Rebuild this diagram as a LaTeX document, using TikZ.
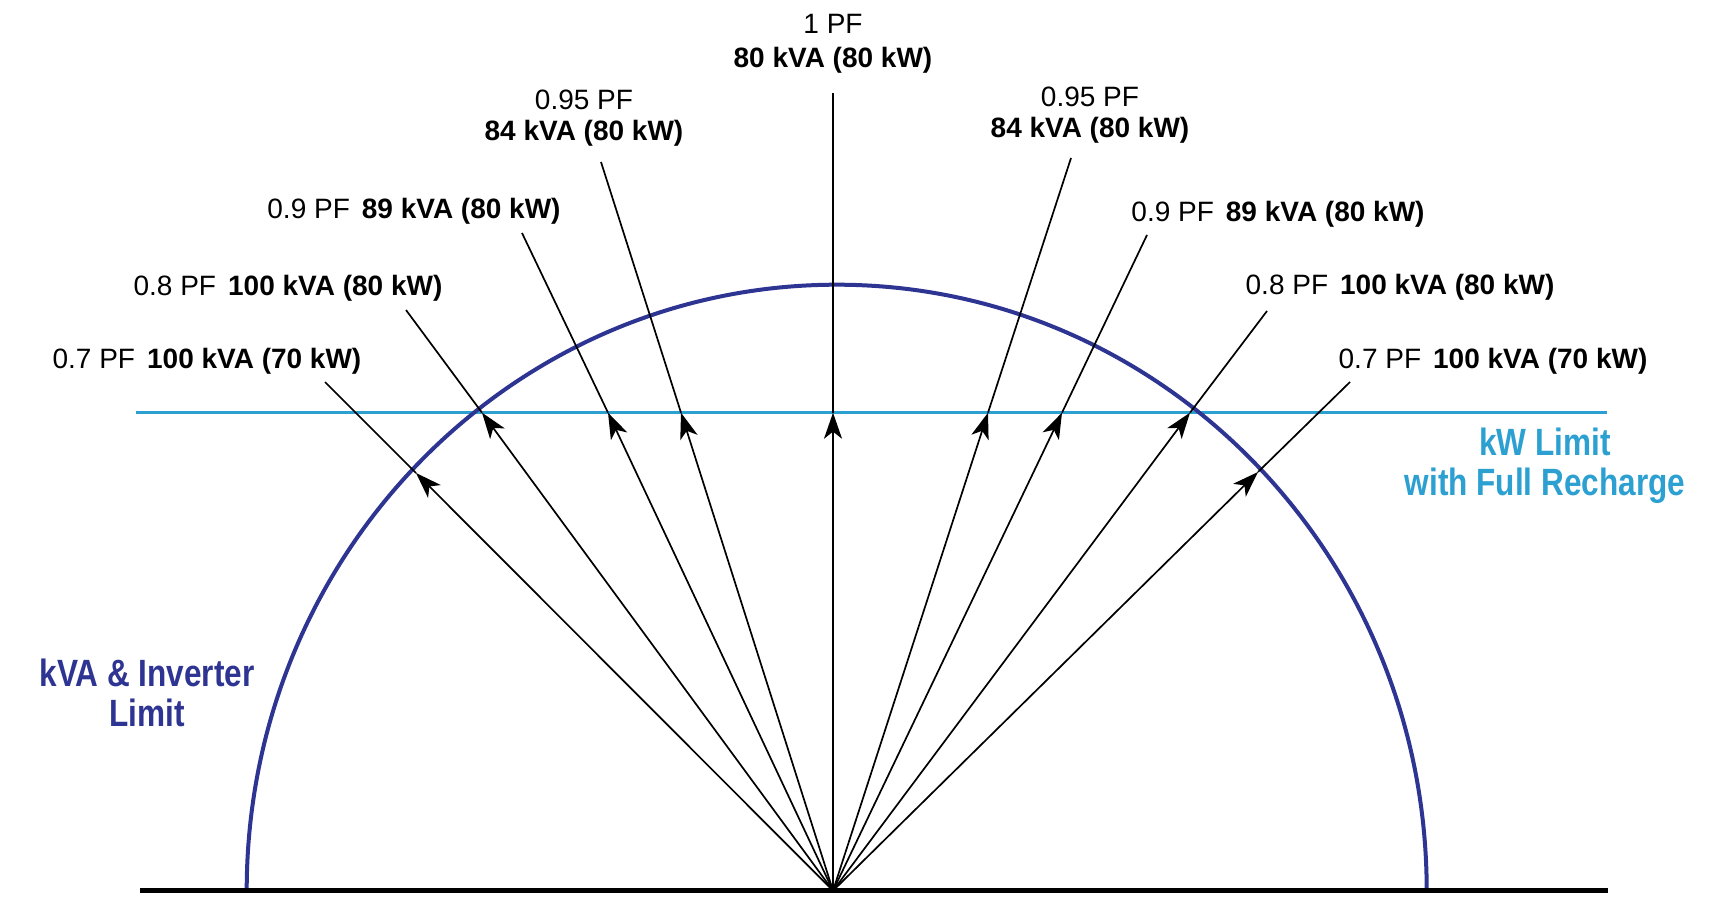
\documentclass[tikz,border=0pt]{standalone}
\usepackage{fontspec}
\setmainfont{Liberation Sans}
\newfontfamily\condfont{Liberation Sans}[FakeStretch=0.83]
\usetikzlibrary{arrows.meta,calc}
\definecolor{kvablue}{RGB}{46,52,146}
\definecolor{kwblue}{RGB}{45,160,210}
\begin{document}
\begin{tikzpicture}[x=1pt,y=1pt,
  vec/.style={line width=1.7pt,black},
  vecarrow/.style={vec,-{Stealth[length=26pt,width=18pt,inset=7pt]}},
  lbl/.style={inner sep=0pt,font=\fontsize{28}{32}\selectfont},
  bluelbl/.style={inner sep=0pt,font=\condfont\bfseries\fontsize{38}{40}\selectfont,align=center}]
\useasboundingbox (0,0) rectangle (1712,919);
\fill[white] (0,0) rectangle (1712,919);
% base and origin
\coordinate (O) at (833,28.3);
\coordinate (BL) at (140,28.3);
\coordinate (BR) at (1608,28.3);
\coordinate (CL) at (246.7,28.3);
% kW limit line
\coordinate (KL) at (136,506.3);
\coordinate (KR) at (1607,506.3);
\draw[kwblue,line width=2.5pt] (KL) -- (KR);
% kVA limit circle
\draw[kvablue,line width=4pt] (CL) arc[start angle=180,end angle=0,x radius=590pt,y radius=606pt];
\draw[black,line width=5pt] (BL) -- (BR);
% arrow tips
\coordinate (T1) at (833,506.3);
\coordinate (TL95) at (681,506.3);
\coordinate (TR95) at (988,506.3);
\coordinate (TL9) at (608,506.3);
\coordinate (TR9) at (1062,506.3);
\coordinate (TL8) at (482,506.3);
\coordinate (TR8) at (1190,506.3);
\coordinate (TL7) at (416,446);
\coordinate (TR7) at (1258,447);
% line ends
\coordinate (E1) at (833,826);
\coordinate (EL95) at (601,757);
\coordinate (ER95) at (1071,761);
\coordinate (EL9) at (522,686);
\coordinate (ER9) at (1147,684);
\coordinate (EL8) at (406,609);
\coordinate (ER8) at (1267,608);
\coordinate (EL7) at (325,537);
\coordinate (ER7) at (1350,537);
\foreach \n in {1,L95,R95,L9,R9,L8,R8,L7,R7}{
  \draw[vecarrow] (O) -- (T\n);
  \draw[vec] (T\n) -- (E\n);
}
% labels
\node[lbl] (pf1a) at (833,895) {1 PF};
\node[lbl] (pf1b) at (833,859) {\bfseries 80 kVA (80 kW)};
\node[lbl] (l95a) at (584,819) {0.95 PF};
\node[lbl] (l95b) at (584,786) {\bfseries 84 kVA (80 kW)};
\node[lbl] (r95a) at (1090,822) {0.95 PF};
\node[lbl] (r95b) at (1090,789) {\bfseries 84 kVA (80 kW)};
\node[lbl] (l9) at (414,708) {0.9 PF\hspace{12pt}\bfseries 89 kVA (80 kW)};
\node[lbl] (r9) at (1278,705) {0.9 PF\hspace{12pt}\bfseries 89 kVA (80 kW)};
\node[lbl] (l8) at (288,631) {0.8 PF\hspace{12pt}\bfseries 100 kVA (80 kW)};
\node[lbl] (r8) at (1400,632) {0.8 PF\hspace{12pt}\bfseries 100 kVA (80 kW)};
\node[lbl] (l7) at (207,558) {0.7 PF\hspace{12pt}\bfseries 100 kVA (70 kW)};
\node[lbl] (r7) at (1493,558) {0.7 PF\hspace{12pt}\bfseries 100 kVA (70 kW)};
\node[bluelbl,text=kwblue] (kw) at (1545,453) {kW Limit\\with Full Recharge};
\node[bluelbl,text=kvablue] (kva) at (147,226) {kVA \& Inverter\\Limit};
\end{tikzpicture}
\end{document}
